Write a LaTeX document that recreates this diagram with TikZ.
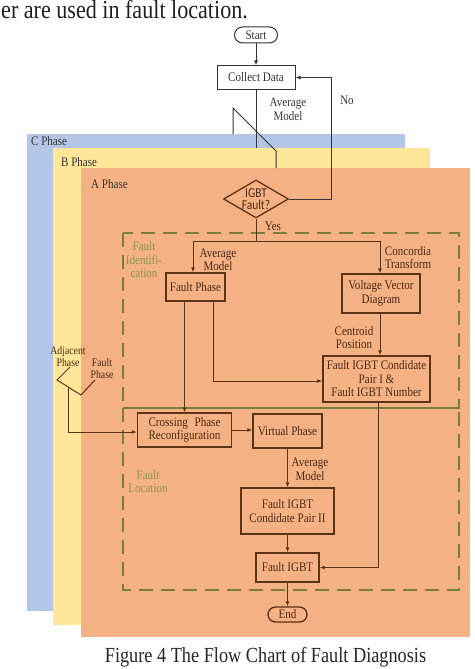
\documentclass[tikz,border=0pt]{standalone}
\usepackage{fontspec}
\setmainfont{Liberation Serif}[FakeStretch=0.85]
\newfontfamily\igbtfont{Carlito}[FakeStretch=0.85]
\usetikzlibrary{arrows.meta,calc,shapes.geometric}
\definecolor{cblue}{HTML}{B4C6E7}
\definecolor{byellow}{HTML}{FFE699}
\definecolor{aorange}{HTML}{F4B183}
\definecolor{brn}{HTML}{5C3317}
\definecolor{brntext}{HTML}{4B2A14}
\definecolor{olv}{HTML}{7A7D3C}
\definecolor{olvtext}{HTML}{8C9450}
\definecolor{dk}{HTML}{333333}
\begin{document}
\begin{tikzpicture}[x=1pt,y=-1pt,
  every node/.style={font=\fontsize{13}{13.5}\selectfont, inner sep=1pt, align=center},
  topbox/.style={draw=dk, line width=1pt, fill=white, text=dk},
  box/.style={draw=brn, line width=1.3pt, text=brntext},
  lbl/.style={text=brntext},
  toplbl/.style={text=dk},
  arr/.style={draw=brn, line width=1pt, -{Latex[length=5pt,width=4pt]}},
  toparr/.style={draw=dk, line width=1pt, -{Latex[length=5pt,width=4pt]}},
  ln/.style={draw=brn, line width=1pt},
  topln/.style={draw=dk, line width=1pt},
  dashbox/.style={draw=olv, line width=1.5pt, dash pattern=on 14pt off 8pt},
  grp/.style={text=olvtext}]
\fill[white] (0,0) rectangle (474,669);
\useasboundingbox (0,0) rectangle (474,669);

% partly shown text lines
\node[anchor=base west, inner sep=0, text=black!88, font=\fontsize{26}{28}\selectfont] (toptext) at (1,19) {er are used in fault location.};
\node[anchor=base, inner sep=0, text=black!85, font=\fontsize{21.5}{24}\selectfont] (caption) at (265.5,662.5) {Figure 4 The Flow Chart of Fault Diagnosis};

% phase layers
\fill[cblue] (27,134) rectangle (405,611);
\fill[byellow] (53,148) rectangle (430,625);
\fill[aorange] (81,168) rectangle (470,637);
\node[anchor=west, toplbl] (cph) at (30,141) {C Phase};
\node[anchor=west, toplbl] (bph) at (60,162) {B Phase};
\node[anchor=west, toplbl] (aph) at (90,184) {A Phase};

% group boxes
\draw[dashbox] (123,233) rectangle (459,408);
\draw[dashbox] (123,408) rectangle (459,590);
\node[grp] (gid) at (144,260) {Fault\\Identifi-\\cation};
\node[grp] (gloc) at (148,481.5) {Fault\\Location};

% top nodes
\node[topbox, rounded corners=8pt, minimum width=43pt, minimum height=16pt] (start) at (256,35) {Start};
\node[topbox, minimum width=78pt, minimum height=23pt] (collect) at (256,77.5) {Collect Data};
\node[toplbl] (avg0) at (288,109.5) {Average\\Model};
\node[toplbl] (nolbl) at (347,100) {No};

% diamond
\node[diamond, draw=brn, line width=1.3pt, aspect=1.7, minimum width=65pt, minimum height=38pt, inner sep=0pt,
      text=brntext, font=\igbtfont\fontsize{13.5}{12.5}\selectfont] (dia) at (256,199) {IGBT\\Fault?};
\node[lbl] (yes) at (273,226) {Yes};

% process boxes
\node[box, minimum width=59pt, minimum height=28pt] (fphase) at (195.5,287) {Fault Phase};
\node[box, minimum width=78pt, minimum height=39pt] (vvd) at (381,293.5) {Voltage Vector\\Diagram};
\node[box, minimum width=107pt, minimum height=46pt] (pair1) at (376.5,379) {Fault IGBT Condidate\\Pair I \&\\Fault IGBT Number};
\node[box, minimum width=94pt, minimum height=34pt] (cross) at (184.5,430) {Crossing\hspace{4pt} Phase\\Reconfiguration};
\node[box, minimum width=69pt, minimum height=34pt] (virt) at (287.5,431) {Virtual Phase};
\node[box, minimum width=93pt, minimum height=46pt] (pair2) at (287.5,511) {Fault IGBT\\Condidate Pair II};
\node[box, minimum width=63pt, minimum height=29pt] (figbt) at (287.5,567.5) {Fault IGBT};
\node[box, rounded corners=7.5pt, minimum width=39pt, minimum height=15pt] (endn) at (287.5,614.5) {End};

% labels
\node[lbl] (avg1) at (218,260) {Average\\Model};
\node[lbl] (conc) at (408,257.5) {Concordia\\Transform};
\node[lbl] (cent) at (354,337.5) {Centroid\\Position};
\node[lbl] (avg2) at (310,469.5) {Average\\Model};
\node[lbl, font=\fontsize{11.5}{12}\selectfont] (adj) at (68,357) {Adjacent\\Phase};
\node[lbl, font=\fontsize{11.5}{12}\selectfont] (fph) at (102,368.5) {Fault\\Phase};

% connectors top
\draw[toparr] (start) -- (collect);
\coordinate (cend) at (256,148);
\draw[topln] (collect.south) -- (cend);
\coordinate (k1) at (233,134);
\coordinate (k2) at (233,108);
\coordinate (k3) at (276,151);
\coordinate (k4) at (276,168);
\draw[topln] (k1) -- (k2) -- (k3) -- (k4);
\coordinate (noc) at (331,77.5);
\draw[toparr] (dia.east) -| (noc) -- (collect.east);

% yes branch
\coordinate (yb) at (256,241);
\draw[ln] (dia.south) -- (yb);
\draw[arr] (yb) -| ([xshift=-2.5pt]fphase.north);
\draw[arr] (yb) -| ([xshift=-1pt]vvd.north);
\draw[arr] ([xshift=-1pt]vvd.south) -- ([xshift=-1pt]vvd.south |- pair1.north);
\draw[arr] (fphase.south -| cross.north) -- (cross.north);
\draw[arr] ([xshift=17.5pt]fphase.south) |- ([yshift=-2pt]pair1.west);
\draw[arr] ([xshift=1.5pt]pair1.south) |- (figbt.east);
\draw[arr] (cross.east) -- (cross.east -| virt.west);
\draw[arr] (virt) -- (pair2);
\draw[arr] (pair2) -- (figbt);
\draw[arr] (figbt) -- (endn);

% adjacent / fault phase wedge
\coordinate (w1) at (70,367);
\coordinate (w2) at (57,380);
\coordinate (w3) at (81,395);
\coordinate (w4) at (95,380);
\draw[ln] (w1) -- (w2) -- (w3) -- (w4);
\coordinate (wj) at (68,387);
\draw[arr] (wj) |- ([yshift=-2pt]cross.west);
\end{tikzpicture}
\end{document}
